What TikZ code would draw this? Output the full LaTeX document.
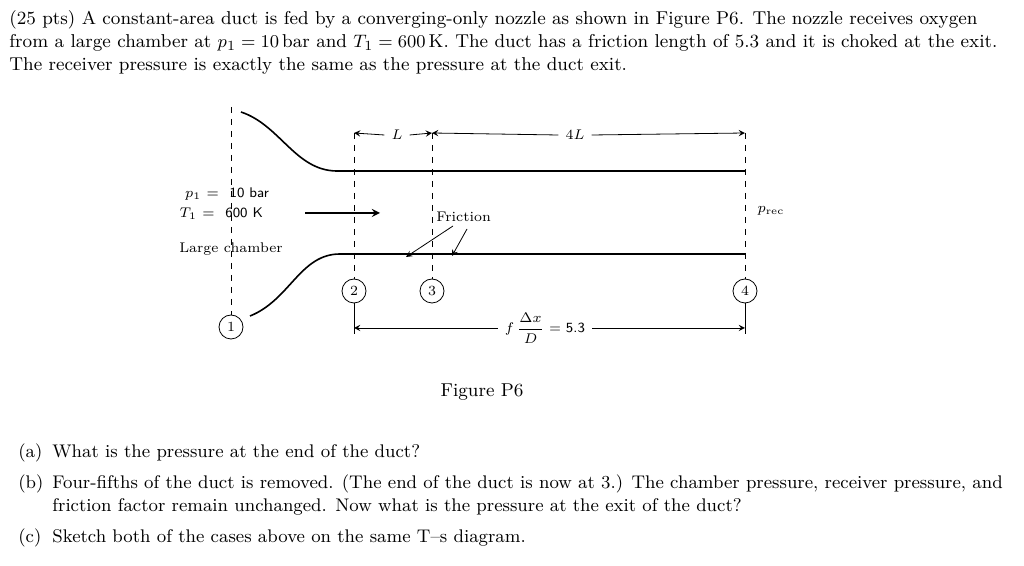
\documentclass[tikz,border=0pt]{standalone}
\usepackage{amsmath}
\usetikzlibrary{arrows}
\tikzstyle{dim} = [thin,->,>=stealth]
\tikzstyle{wall} = [thick]
\tikzstyle{station} = [circle, draw, thin, inner sep=0pt, minimum size=12pt, font=\scriptsize]
\tikzstyle{para} = [anchor=west, inner sep=0pt, font=\fontsize{9.3}{11}\selectfont]
\tikzstyle{quest} = [anchor=west, inner sep=0pt, font=\fontsize{9.15}{11}\selectfont]
\newcommand{\sfv}[1]{\textsf{#1}}

\begin{document}
\begin{tikzpicture}[x=0.5pt,y=-0.5pt]
                \useasboundingbox (0,0) rectangle (1024,566);
                % problem text
                \node (t1) [para] at (9,20) {(25 pts) A constant-area duct is fed by a converging-only nozzle as shown in Figure P6. The nozzle receives oxygen};
                \node (t2) [para] at (9,43) {from a large chamber at $p_1 = 10\,$bar and $T_1 = 600\,$K. The duct has a friction length of 5.3 and it is choked at the exit.};
                \node (t3) [para] at (9,66) {The receiver pressure is exactly the same as the pressure at the duct exit.};

                % stations
                \node (s1) [station] at (231,327) {1};
                \node (s2) [station] at (354,291) {2};
                \node (s3) [station] at (432,291) {3};
                \node (s4) [station] at (745,291) {4};
                \coordinate (top1) at (231,107);
                \coordinate (top2) at (354,133);
                \coordinate (top3) at (432,133);
                \coordinate (top4) at (745,133);
                \coordinate (bot2) at (354,334);
                \coordinate (bot4) at (745,334);
                \draw [thin, dashed] (top1) -- (s1);
                \draw [thin, dashed] (top2) -- (s2);
                \draw [thin, dashed] (top3) -- (s3);
                \draw [thin, dashed] (top4) -- (s4);
                \draw [thin] (s2) -- (bot2);
                \draw [thin] (s4) -- (bot4);

                % nozzle and duct
                \draw [wall] (241,112) .. controls (280,125) and (295,170) .. (336,171) -- (745,171);
                \draw [wall] (250,316) .. controls (290,300) and (300,254) .. (340,254) -- (745,254);

                % dimensions
                \draw [dim] (397,135) node (dl) {\scriptsize$L$} (dl.west) -- (top2);
                \draw [dim] (dl.east) -- (top3);
                \draw [dim] (575,135) node (d4l) {\scriptsize$4L$} (d4l.west) -- (top3);
                \draw [dim] (d4l.east) -- (top4);
                \node (fdx) at (545,328) {\scriptsize$f\,\dfrac{\Delta x}{D}$ \sfv{= 5.3}};
                \draw [dim] (fdx.west) -- (354,328);
                \draw [dim] (fdx.east) -- (745,328);

                % labels
                \node (p1) [anchor=east] at (276,194) {\scriptsize$p_1$ = \ \sfv{10 bar}};
                \node (T1) [anchor=east] at (270,214) {\scriptsize$T_1$ = \ \sfv{600 K}};
                \node (lc) at (231,249) {\scriptsize Large chamber};
                \coordinate (fa) at (305,213);
                \coordinate (fb) at (380,213);
                \draw [dim, thick] (fa) -- (fb);
                \node (fr) [anchor=west, inner sep=1pt] at (434,217) {\scriptsize Friction};
                \coordinate (w1) at (406,257);
                \coordinate (w2) at (452,256);
                \draw [dim] (453,226) -- (w1);
                \draw [dim] (467,229) -- (w2);
                \node (prec) at (771,211) {\scriptsize$p_{\text{rec}}$};
                \node (cap) at (482,392) {\fontsize{9.3}{11}\selectfont Figure P6};

                % questions
                \node (la) [quest] at (18,453) {(a)};
                \node (qa) [quest] at (52,453) {What is the pressure at the end of the duct?};
                \node (lb) [quest] at (18,484) {(b)};
                \node (qb) [quest] at (52,484) {Four-fifths of the duct is removed. (The end of the duct is now at 3.) The chamber pressure, receiver pressure, and};
                \node (qb2) [quest] at (52,507) {friction factor remain unchanged. Now what is the pressure at the exit of the duct?};
                \node (lc2) [quest] at (18,538) {(c)};
                \node (qc) [quest] at (52,538) {Sketch both of the cases above on the same T--s diagram.};
\end{tikzpicture}
\end{document}
